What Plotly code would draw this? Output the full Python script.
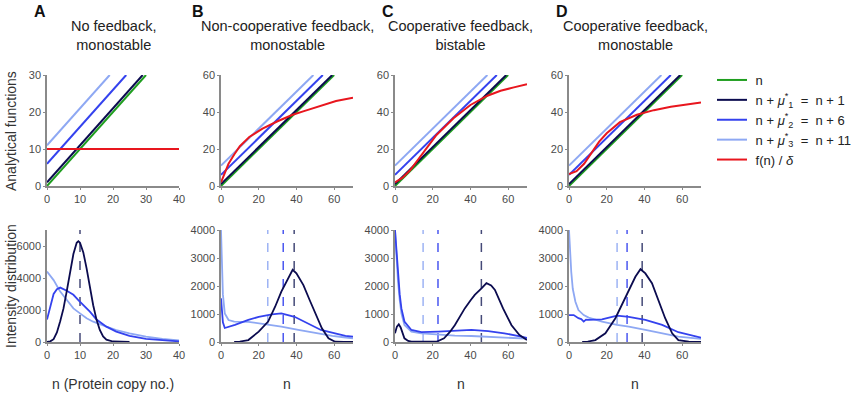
import plotly.graph_objects as go

W, H = 856, 395

# ---------------- colours ----------------
GREEN = "#1f9e1f"
NAVY = "#0b0b4f"
BLUE = "#3442ee"
LIGHT = "#8ea8f3"
RED = "#e8161e"
DASH_NAVY = "#454a78"
DASH_BLUE = "#4a57f0"
DASH_LIGHT = "#9db3f4"

# ---------------- data: analytical functions (top row) ----------------
A_n_x = [0, 30];  A_n_y = [0, 30]
A_n1_x = [0, 29]; A_n1_y = [1, 30]
A_n6_x = [0, 24]; A_n6_y = [6, 30]
A_n11_x = [0, 19]; A_n11_y = [11, 30]
A_f_x = [0, 40]; A_f_y = [10, 10]

BCD_n_x = [0, 60];  BCD_n_y = [0, 60]
BCD_n1_x = [0, 59]; BCD_n1_y = [1, 60]
BCD_n6_x = [0, 54]; BCD_n6_y = [6, 60]
BCD_n11_x = [0, 49]; BCD_n11_y = [11, 60]

B_f_x = [0, 2, 4, 7, 10, 15, 22, 30, 38, 44, 53, 61, 70]
B_f_y = [2, 7.5, 12, 17, 21.5, 26.5, 31, 35, 38.5, 40.5, 43.2, 45.9, 47.7]

C_f_x = [0, 4, 8, 12, 16, 22, 31, 40, 49, 56, 63, 70]
C_f_y = [2, 4.5, 8.5, 14, 20, 27.6, 36.6, 43.8, 48.8, 51.5, 53.3, 55]

D_f_x = [0, 4, 8, 12, 16, 20, 27, 36, 45, 54, 62, 70]
D_f_y = [6.5, 8, 12, 18, 24, 28.5, 34.5, 38.5, 41, 42.8, 44.2, 45.2]

# ---------------- data: intensity distributions (bottom row) ----------------
A_d1_x = [0, 1, 2, 3, 4, 5, 6, 7, 8, 9, 9.5, 10, 11, 12, 13, 14, 15, 16, 17, 18, 20, 22, 25]
A_d1_y = [0, 40, 180, 600, 1300, 2100, 3200, 4400, 5500, 6200, 6300, 6200, 5600, 4600, 3400, 2300, 1400, 750, 350, 150, 30, 5, 0]
A_d2_x = [0, 1, 2, 3, 4, 6, 8, 9.5, 11, 13, 15, 18, 21, 25, 30, 35, 40]
A_d2_y = [1400, 2300, 3000, 3300, 3400, 3200, 2950, 2620, 2300, 1900, 1400, 960, 650, 380, 190, 100, 40]
A_d3_x = [0, 2, 4, 6, 8, 10, 12, 14, 16, 18, 21, 25, 30, 35, 40]
A_d3_y = [4400, 3870, 3150, 2620, 2100, 1790, 1480, 1270, 1100, 960, 750, 540, 330, 190, 100]
A_means = [10]

B_d1_x = [7, 10, 14.5, 20, 25, 28.7, 32, 35.8, 38, 40, 43.7, 47, 50, 53.5, 57, 60.5, 65, 70]
B_d1_y = [0, 15, 70, 370, 730, 1260, 1800, 2270, 2580, 2450, 2030, 1500, 1020, 490, 130, 10, 0, 0]
B_d2_x = [0, 0.5, 1, 2, 4, 7.4, 14.5, 20, 27, 32, 39, 46, 53, 60.5, 66, 70]
B_d2_y = [1560, 1000, 700, 500, 540, 610, 790, 900, 990, 1020, 900, 670, 430, 310, 220, 190]
B_d3_x = [0, 0.3, 0.7, 1, 2, 4, 7, 14.5, 23, 32, 41, 50, 59, 65, 70]
B_d3_y = [4000, 3300, 2300, 1700, 1020, 785, 725, 720, 640, 550, 430, 310, 215, 170, 130]
B_means = [38.8, 33, 24.8]

C_d1_x = [0, 1, 2, 3, 5, 7, 8.7, 12, 16, 22, 26, 29, 31.7, 34, 37, 40, 42.3, 46, 48.5, 51, 53, 57.3, 61.8, 66, 70]
C_d1_y = [310, 550, 630, 520, 130, 40, 10, 5, 5, 10, 130, 350, 600, 880, 1200, 1480, 1680, 1920, 2100, 2020, 1860, 1200, 600, 250, 70]
C_d2_x = [0, 0.5, 1, 1.6, 2.5, 3.4, 5, 8.7, 14, 23, 31.7, 40.5, 49.4, 58, 67, 70]
C_d2_y = [4000, 3500, 2900, 2400, 1700, 1200, 730, 430, 350, 370, 390, 430, 390, 310, 190, 150]
C_d3_x = [0, 0.5, 1, 1.6, 2.5, 3.4, 5, 8.7, 14, 23, 31.7, 40.5, 49.4, 58, 70]
C_d3_y = [4000, 3300, 2700, 2150, 1500, 1020, 610, 370, 310, 270, 225, 215, 190, 155, 120]
C_means = [45.8, 22.8, 14.9]

D_d1_x = [7, 10, 14, 19.3, 24.6, 28, 31.7, 35.2, 37.9, 40.5, 44, 47.6, 51, 54.7, 58, 63.5, 70]
D_d1_y = [0, 15, 70, 310, 850, 1320, 1860, 2330, 2600, 2450, 2100, 1440, 850, 310, 70, 10, 0]
D_d2_x = [0, 2.5, 5, 6.5, 7.8, 9, 10.4, 17.5, 25.5, 31.7, 40.5, 49.4, 58, 70]
D_d2_y = [960, 960, 850, 820, 730, 800, 790, 810, 940, 900, 790, 610, 350, 155]
D_d3_x = [0, 0.3, 0.7, 1.2, 2, 3.4, 5, 7.8, 10.4, 17.5, 25.5, 31.7, 40.5, 49.4, 58, 70]
D_d3_y = [4000, 3500, 3000, 2500, 1900, 1440, 1140, 960, 870, 730, 610, 550, 430, 310, 190, 110]
D_means = [38.8, 30.8, 25.5]

# ---------------- text ----------------
letters = ["A", "B", "C", "D"]
titles = ["No feedback,<br>monostable",
          "Non-cooperative feedback,<br>monostable",
          "Cooperative feedback,<br>bistable",
          "Cooperative feedback,<br>monostable"]
xtitles = ["n (Protein copy no.)", "n", "n", "n"]
legend_names = ["\u00a0n",
                "\u00a0n + <i>μ</i><sup>*</sup><sub>1</sub>\u00a0\u00a0=\u00a0\u00a0n + 1",
                "\u00a0n + <i>μ</i><sup>*</sup><sub>2</sub>\u00a0\u00a0=\u00a0\u00a0n + 6",
                "\u00a0n + <i>μ</i><sup>*</sup><sub>3</sub>\u00a0\u00a0=\u00a0\u00a0n + 11",
                "\u00a0f(n) / <i>δ</i>"]

# ---------------- layout geometry (pixels) ----------------
panel_x = [(47, 179), (221, 353), (395, 527), (569, 701)]
top_y = (75, 186)
bot_y = (230, 342)

FONT = "Liberation Sans, Arial, Helvetica, sans-serif"


def px_x(v):
    return v / W


def px_y(v):
    return 1 - v / H


fig = go.Figure()


def add_line(x, y, color, ax, width=1.8, dash=None, name=None, legend=False):
    axn = "" if ax == "1" else ax
    fig.add_trace(go.Scatter(
        x=x, y=y, mode="lines", xaxis="x" + axn, yaxis="y" + axn,
        line=dict(color=color, width=width, dash=dash),
        name=name if name else "line", showlegend=legend, hoverinfo="skip"))


top_lines = [
    (A_n_x, A_n_y, A_n1_x, A_n1_y, A_n6_x, A_n6_y, A_n11_x, A_n11_y, A_f_x, A_f_y),
    (BCD_n_x, BCD_n_y, BCD_n1_x, BCD_n1_y, BCD_n6_x, BCD_n6_y, BCD_n11_x, BCD_n11_y, B_f_x, B_f_y),
    (BCD_n_x, BCD_n_y, BCD_n1_x, BCD_n1_y, BCD_n6_x, BCD_n6_y, BCD_n11_x, BCD_n11_y, C_f_x, C_f_y),
    (BCD_n_x, BCD_n_y, BCD_n1_x, BCD_n1_y, BCD_n6_x, BCD_n6_y, BCD_n11_x, BCD_n11_y, D_f_x, D_f_y),
]
cols = [GREEN, NAVY, BLUE, LIGHT, RED]
for i, tl in enumerate(top_lines):
    ax = str(i + 1)
    for k in range(5):
        add_line(tl[2 * k], tl[2 * k + 1], cols[k], ax, width=2.0,
                 name=legend_names[k], legend=(i == 0))

bottoms = [
    (A_d1_x, A_d1_y, A_d2_x, A_d2_y, A_d3_x, A_d3_y, A_means, 7000),
    (B_d1_x, B_d1_y, B_d2_x, B_d2_y, B_d3_x, B_d3_y, B_means, 4000),
    (C_d1_x, C_d1_y, C_d2_x, C_d2_y, C_d3_x, C_d3_y, C_means, 4000),
    (D_d1_x, D_d1_y, D_d2_x, D_d2_y, D_d3_x, D_d3_y, D_means, 4000),
]
dash_cols = [DASH_NAVY, DASH_BLUE, DASH_LIGHT]
for i, b in enumerate(bottoms):
    ax = str(i + 5)
    ymax = b[7]
    for j, m in enumerate(b[6]):
        add_line([m, m], [0, ymax], dash_cols[j], ax, width=1.5, dash="dash")
    add_line(b[4], b[5], LIGHT, ax, width=1.8)
    add_line(b[2], b[3], BLUE, ax, width=1.8)
    add_line(b[0], b[1], NAVY, ax, width=1.8)

axis_common = dict(showgrid=False, zeroline=False, showline=True, linecolor="#8a8a8a",
                   linewidth=1.5, tickfont=dict(family=FONT, size=11, color="#4a4a4a"),
                   ticks="outside", ticklen=2, tickcolor="#8a8a8a", fixedrange=True,
                   automargin=False)

layout_axes = {}
x_ranges = [[0, 40], [0, 70], [0, 70], [0, 70]]
x_ticks = [[0, 10, 20, 30, 40], [0, 20, 40, 60], [0, 20, 40, 60], [0, 20, 40, 60]]
top_yr = [[0, 30], [0, 60], [0, 60], [0, 60]]
top_yt = [[0, 10, 20, 30], [0, 20, 40, 60], [0, 20, 40, 60], [0, 20, 40, 60]]
bot_yr = [[0, 7000], [0, 4000], [0, 4000], [0, 4000]]
bot_yt = [[0, 2000, 4000, 6000], [0, 1000, 2000, 3000, 4000], [0, 1000, 2000, 3000, 4000],
          [0, 1000, 2000, 3000, 4000]]

for i in range(4):
    xd = [px_x(panel_x[i][0]), px_x(panel_x[i][1])]
    for row, (yp, yr, yt) in enumerate([(top_y, top_yr[i], top_yt[i]), (bot_y, bot_yr[i], bot_yt[i])]):
        n = i + 1 + 4 * row
        sfx = "" if n == 1 else str(n)
        layout_axes["xaxis" + sfx] = dict(axis_common, domain=xd, range=x_ranges[i], tickvals=x_ticks[i],
                                          anchor="y" + sfx)
        layout_axes["yaxis" + sfx] = dict(axis_common, domain=[px_y(yp[1]), px_y(yp[0])], range=yr,
                                          tickvals=yt, anchor="x" + sfx)

annotations = []
letter_x = [40, 198, 388, 562]


def ann(text, x, y, size, color="#222", angle=0):
    annotations.append(dict(text=text, x=px_x(x), y=px_y(y), xref="paper", yref="paper",
                            xanchor="center", yanchor="middle", showarrow=False, align="center",
                            textangle=angle, font=dict(family=FONT, size=size, color=color)))


for i in range(4):
    ann("<b>" + letters[i] + "</b>", letter_x[i], 11, 16, "#111")
    cx = (panel_x[i][0] + panel_x[i][1]) / 2
    ann(titles[i], cx, 35, 14.5)
    ann(xtitles[i], cx, 384, 14, "#333")

ann("Analytical functions", 11, 131, 14, "#333", -90)
ann("Intensity distribution", 11, 286, 14, "#333", -90)

fig.update_layout(
    width=W, height=H,
    margin=dict(l=0, r=0, t=0, b=0, autoexpand=False),
    paper_bgcolor="white", plot_bgcolor="white",
    showlegend=True,
    legend=dict(x=px_x(712), y=px_y(65), xanchor="left", yanchor="top",
                font=dict(family=FONT, size=13, color="#222"),
                bgcolor="rgba(0,0,0,0)", borderwidth=0, tracegroupgap=0,
                itemwidth=30),
    annotations=annotations,
    **layout_axes,
)

fig.write_html("out.html", config={"displayModeBar": False},
               post_script="document.body.style.margin='0';document.body.style.padding='0';")
